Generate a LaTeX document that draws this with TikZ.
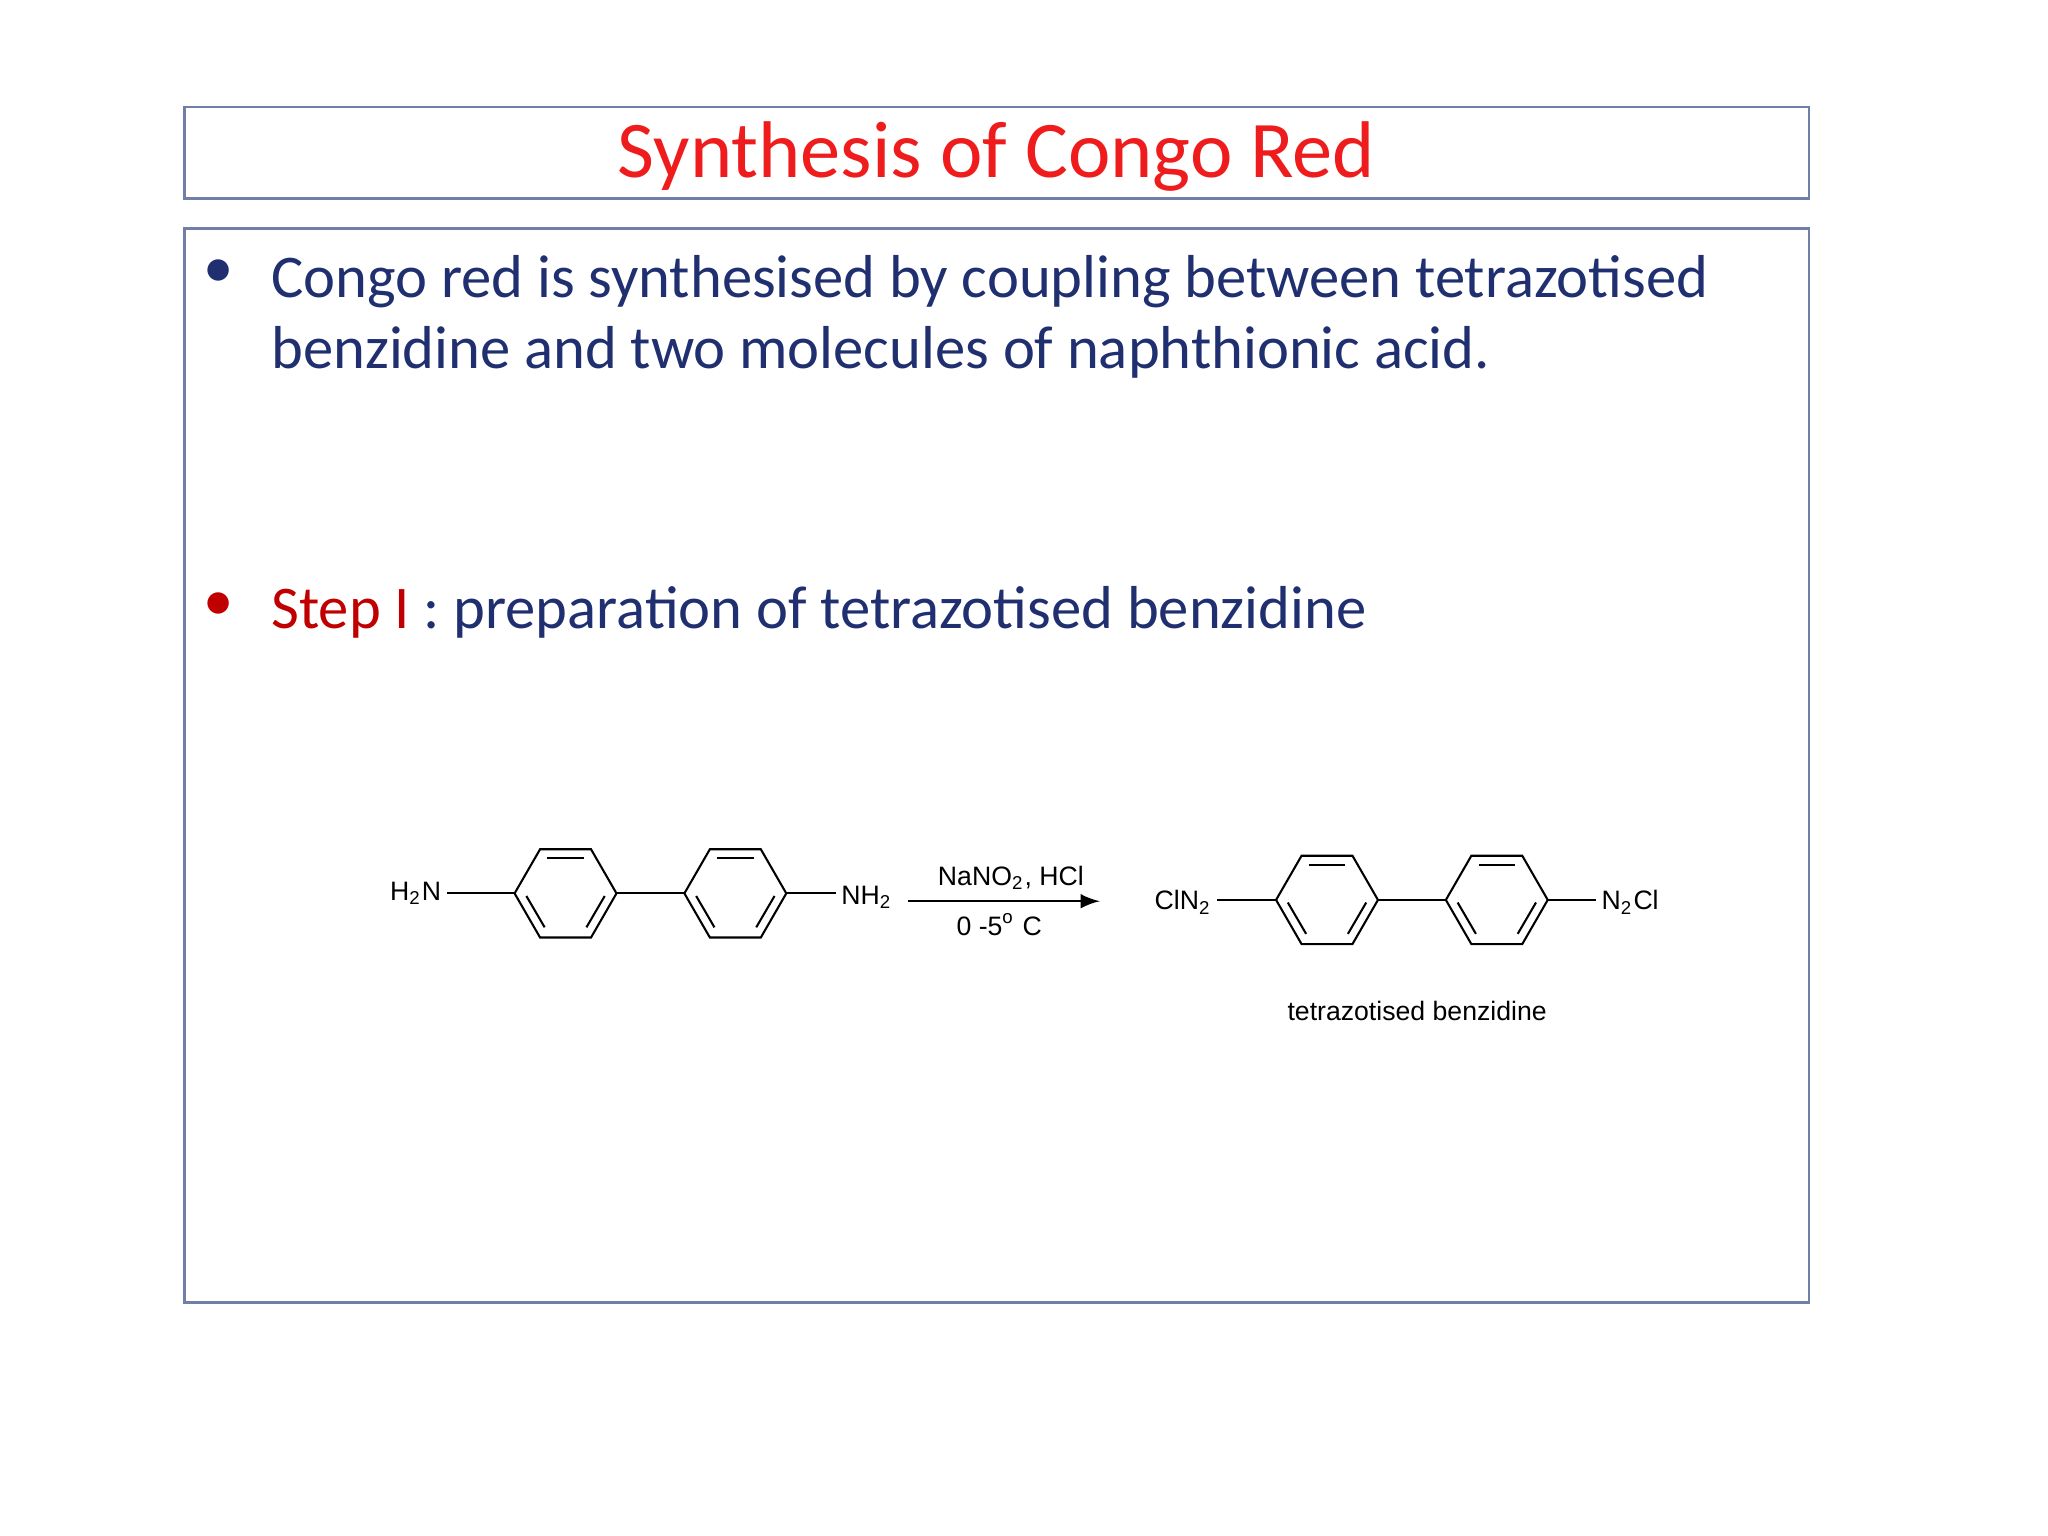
\documentclass[tikz,border=0pt]{standalone}
\usepackage{fontspec}
\setmainfont{Carlito}
\newfontfamily\arial{Liberation Sans}
\definecolor{bx}{HTML}{6F7FA8}
\definecolor{tblue}{HTML}{1F2F6F}
\definecolor{tred}{HTML}{C00000}
\definecolor{titred}{HTML}{EE1C1C}
\begin{document}
\begin{tikzpicture}[x=0.01cm,y=-0.01cm,
  frame/.style={draw=bx,line width=0.6pt},
  body/.style={anchor=base west,inner sep=0,font=\fontsize{13.2}{15.5}\selectfont,text=tblue,align=left},
  chem/.style={font=\arial\fontsize{5.8}{7}\selectfont,inner sep=1pt},
  bond/.style={line width=0.45pt}]
\useasboundingbox[fill=white] (0,0) rectangle (1568,1176);
\draw[frame] (141,82) rectangle (1385,152);
\draw[frame] (141,175) rectangle (1385,997);
\node[font=\fontsize{17.5}{20}\selectfont,text=titred] (title) at (763,120) {Synthesis of Congo Red};
\node[body] (b1) at (155,220) {•};
\node[body] (t1) at (207,282) {Congo red is synthesised by coupling between tetrazotised\\benzidine and two molecules of naphthionic acid.};
\node[body,text=tred] (b2) at (155,475) {•};
\node[body] (t2) at (207,481) {{\color{tred}Step I} : preparation of tetrazotised benzidine};
% rings
\foreach \n/\cx/\cy in {r1/433/684,r2/563/684,r3/1016/689,r4/1146/689}{
  \coordinate (\n) at (\cx,\cy);
  \draw[bond] (\cx+39,\cy) -- (\cx+19.5,\cy-33.8) -- (\cx-19.5,\cy-33.8) -- (\cx-39,\cy) -- (\cx-19.5,\cy+33.8) -- (\cx+19.5,\cy+33.8) -- cycle;
  \draw[bond] (\cx-14,\cy-27) -- (\cx+14,\cy-27);
  \draw[bond] (\cx+30,\cy+2) -- (\cx+16,\cy+26);
  \draw[bond] (\cx-30,\cy+2) -- (\cx-16,\cy+26);
}
\node[chem,anchor=east] (h2n) at (342,684) {H\textsubscript{2}N};
\node[chem,anchor=west] (nh2) at (640,687) {NH\textsubscript{2}};
\draw[bond] (h2n.east) -- (394,684);
\draw[bond] (472,684) -- (524,684);
\draw[bond] (602,684) -- (nh2.west |- 0,684);
\coordinate (a1) at (695,690); \coordinate (a2) at (842,690);
\draw[bond,-latex] (a1) -- (a2);
\node[chem] (reag) at (774,672) {NaNO\textsubscript{2}, HCl};
\node[chem] (cond) at (765,708) {0 -5\textsuperscript{o} C};
\node[chem,anchor=east] (cln) at (932,691) {ClN\textsubscript{2}};
\node[chem,anchor=west] (n2cl) at (1222,691) {N\textsubscript{2}Cl};
\draw[bond] (932,689) -- (977,689);
\draw[bond] (1055,689) -- (1107,689);
\draw[bond] (1185,689) -- (1222,689);
\node[chem] (lab) at (1085,774) {tetrazotised benzidine};
\end{tikzpicture}
\end{document}
